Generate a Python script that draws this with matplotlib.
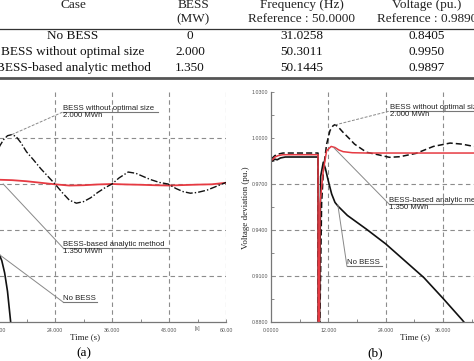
import numpy as np
import matplotlib
matplotlib.use("Agg")
import matplotlib.pyplot as plt
from matplotlib.lines import Line2D

# ---- table data ----
col_heads = ["Case", "BESS", "Frequency (Hz)", "Voltage (pu.)"]
col_heads2 = ["", "(MW)", "Reference : 50.0000", "Reference : 0.9890"]
cases = ["No BESS", "BESS without optimal size", "BESS-based analytic method"]
bess_mw = ["0", "2.000", "1.350"]
freq_hz = ["31.0258", "50.3011", "50.1445"]
volt_pu = ["0.8405", "0.9950", "0.9897"]

# ---- (a) frequency ----
t_a_nobess = [12.0, 12.4, 12.8, 13.4, 14.0, 14.7, 15.0]
f_nobess = [49.56, 49.53, 49.50, 49.42, 49.30, 49.09, 49.00]
t_a_bess = [12.0, 12.4, 13.2, 14.0, 14.9, 15.8, 16.8, 18.0, 19.4, 21.0, 22.5, 24.0,
            25.5, 27.0, 28.5, 30.0, 31.5, 33.0, 34.5, 36.0, 37.5, 39.4, 41.0, 42.5,
            44.0, 46.0, 47.8, 49.5, 51.0, 52.5, 54.0, 56.0, 58.0, 60.0]
f_bess = [50.22, 50.25, 50.29, 50.315, 50.322, 50.31, 50.27, 50.21, 50.16, 50.10, 50.05, 50.00,
          49.945, 49.895, 49.875, 49.885, 49.91, 49.945, 49.975, 50.00, 50.04, 50.078, 50.07, 50.05,
          50.03, 50.01, 50.00, 49.97, 49.95, 49.94, 49.945, 49.96, 49.985, 50.01]
t_a_opt = [12, 15, 18, 21, 24, 27, 30, 33, 36, 39, 42, 45, 48, 51, 54, 57, 60]
f_opt = [50.028, 50.025, 50.018, 50.008, 49.998, 49.99, 49.992, 49.997, 50.0, 49.997,
         49.995, 49.992, 49.99, 49.993, 49.996, 49.998, 50.008]

# ---- (b) voltage ----
t_b_nobess = [0, 0.3, 0.8, 1.3, 2.0, 3.0, 9.85, 9.9, 10.1, 10.4, 10.95, 11.4, 12.0, 12.7,
              13.4, 14.05, 16, 20, 24, 28, 32, 36, 40, 42.5]
v_nobess = [0.9855, 0.9850, 0.9862, 0.9858, 0.9870, 0.9876, 0.9876, 0.86, 0.86, 0.975, 0.9842,
            0.980, 0.972, 0.9635, 0.958, 0.9555, 0.9495, 0.9405, 0.931, 0.920, 0.909, 0.8955,
            0.8815, 0.872]
t_b_bess = [0, 0.3, 0.8, 1.5, 2.5, 9.85, 9.9, 10.15, 10.6, 11.0, 11.65, 12.35, 13.0, 13.4, 14.0,
            15.0, 16.5, 17.5, 20, 22.4, 24.8, 27, 30.4, 34, 37.5, 40, 42.5]
v_bess = [0.9865, 0.9870, 0.9885, 0.9895, 0.9902, 0.9902, 0.86, 0.86, 0.957, 0.980, 0.996, 1.0048,
          1.0080, 1.0087, 1.0075, 1.0040, 0.9993, 0.9960, 0.9907, 0.9891, 0.9874, 0.9878, 0.9900,
          0.9945, 0.9967, 0.9960, 0.9945]
t_b_opt = [0, 0.3, 0.8, 1.5, 2.5, 9.85, 9.9, 10.1, 10.26, 10.95, 11.65, 12.6, 13.4, 14.2, 15.1,
           17, 20, 25, 30, 35, 42.5]
v_opt = [0.9860, 0.9858, 0.9875, 0.9885, 0.9891, 0.9891, 0.86, 0.86, 0.957, 0.9787, 0.9917,
         0.9945, 0.9938, 0.9922, 0.9911, 0.9904, 0.9902, 0.9902, 0.9902, 0.9902, 0.9902]

serif = ["Liberation Serif", "DejaVu Serif"]
narrow = ["Liberation Sans Narrow", "Liberation Sans", "DejaVu Sans"]
gridc = "#8c8c8c"
red = "#e63a42"

fig = plt.figure(figsize=(4.74, 3.61), dpi=100)
W, H = 474.0, 361.0

# ---- table ----
col_x = [73, 193, 302, 427]
for i in range(4):
    fig.text(col_x[i] / W, 1 - 5 / H, col_heads[i], ha="center", va="center",
             family=serif, fontsize=9.5, color="#222")
    if col_heads2[i]:
        fig.text(col_x[i] / W, 1 - 19 / H, col_heads2[i], ha="center", va="center",
                 family=serif, fontsize=9.5, color="#222")
row_y = [36, 52, 68]
for r in range(3):
    vals = [cases[r], bess_mw[r], freq_hz[r], volt_pu[r]]
    for i in range(4):
        x = 190 if i == 1 else col_x[i]
        fig.text(x / W, 1 - row_y[r] / H, vals[i], ha="center", va="center",
                 family=serif, fontsize=9.5, color="#111")
fig.add_artist(Line2D([0, 1], [1 - 29 / H, 1 - 29 / H], color="#333", lw=0.9))
fig.add_artist(Line2D([0, 1], [1 - 77.5 / H, 1 - 77.5 / H], color="#555", lw=2.0))


def style_axes(ax, xt, xtl):
    ax.set_xticks(xt)
    ax.set_xticklabels(xtl)
    ax.set_xticks([x + 6 for x in xt[:-1]], minor=True)
    ax.tick_params(axis="both", which="both", direction="in", length=2, width=0.6,
                   colors="#777", labelsize=3.8, labelcolor="#555", pad=4)
    for lab in ax.get_xticklabels() + ax.get_yticklabels():
        lab.set_family(narrow)
    for s in ["top", "right"]:
        ax.spines[s].set_visible(False)
    for s in ["left", "bottom"]:
        ax.spines[s].set_color("#777")
        ax.spines[s].set_linewidth(0.9)


def label(ax, txt, tx, ty, ul_end, px, py, dashed=False):
    lines = txt.split("\n")
    ax.text(tx, ty, lines[0], family=narrow, fontsize=5.6, ha="left", va="bottom",
            color="#222", clip_on=False)
    if len(lines) > 1:
        ax.text(tx, ty, lines[1], family=narrow, fontsize=5.6, ha="left", va="top",
                color="#222", clip_on=False)
    ax.plot([tx, ul_end], [ty, ty], color="#777", lw=0.8, clip_on=False)
    ax.plot([px, tx], [py, ty], color="#888", lw=0.7, clip_on=False,
            ls=(0, (3, 1.5)) if dashed else "-")


# ---- (a) ----
ax1 = fig.add_axes([-59 / W, 39 / H, 285 / W, 230 / H])
ax1.set_xlim(0, 60)
ax1.set_ylim(49.1, 50.6)
for v in [49.4, 49.7, 50.0, 50.3]:
    ax1.axhline(v, color=gridc, lw=0.8, ls=(0, (4, 3)))
for t in [24, 36, 48, 60]:
    ax1.axvline(t, color=gridc, lw=0.8, ls=(0, (4, 3)))
ax1.plot(t_a_opt, f_opt, color=red, lw=1.3)
ax1.plot(t_a_bess, f_bess, color="#111", lw=1.0, ls=(0, (5, 1.5, 1, 1.5)))
ax1.plot(t_a_nobess, f_nobess, color="#111", lw=1.2)
style_axes(ax1, [0, 12, 24, 36, 48, 60], ["0.0000", "12.000", "24.000", "36.000", "48.000", "60.00"])
ax1.set_yticks([])
ax1.spines["left"].set_visible(False)
ax1.text(54, 49.1 - 0.027, "[s]", family=narrow, fontsize=3.8, color="#555", ha="center",
         va="top")
ax1.set_xlabel("Time (s)", family=serif, fontsize=6.5, color="#222")
ax1.xaxis.set_label_coords((85 + 59) / 285, -11 / 230)
label(ax1, "BESS without optimal size\n2.000 MWh", 25.7, 50.47, 45.7, 14.9, 50.322, True)
label(ax1, "BESS-based analytic method\n1.350 MWh", 25.7, 49.583, 47.8, 13.1, 50.0)
label(ax1, "No BESS", 25.7, 49.23, 32.8, 12.4, 49.537)
fig.text(84 / W, 1 - 353 / H, "(a)", family=serif, fontsize=9.5, ha="center", va="center")

# ---- (b) ----
ax2 = fig.add_axes([271 / W, 39 / H, 286.5 / W, 230 / H])
ax2.set_xlim(0, 60)
ax2.set_ylim(0.88, 1.03)
for v in [0.91, 0.94, 0.97]:
    ax2.axhline(v, color=gridc, lw=0.8, ls=(0, (4, 3)))
for t in [12, 24, 36, 48]:
    ax2.axvline(t, color=gridc, lw=0.8, ls=(0, (4, 3)))
ax2.plot(t_b_nobess, v_nobess, color="#111", lw=1.2)
ax2.plot(t_b_bess, v_bess, color="#111", lw=1.1, ls=(0, (4, 2)))
ax2.plot(t_b_opt, v_opt, color=red, lw=1.1)
ax2.set_yticks([0.88, 0.91, 0.94, 0.97, 1.0, 1.03])
ax2.set_yticklabels(["0.8800", "0.9100", "0.9400", "0.9700", "1.0000", "1.0300"])
ax2.set_yticks([0.895, 0.925, 0.955, 0.985, 1.015], minor=True)
style_axes(ax2, [0, 12, 24, 36, 48, 60], ["0.0000", "12.000", "24.000", "36.000", "48.000", "60.00"])
ax2.tick_params(axis="y", pad=2)
ax2.set_xlabel("Time (s)", family=serif, fontsize=6.5, color="#222")
ax2.xaxis.set_label_coords((415 - 271) / 286.5, -11 / 230)
ax2.set_ylabel("Voltage deviation (pu.)", family=serif, fontsize=6.5, color="#222")
ax2.yaxis.set_label_coords(-21 / 286.5, (322 - 208) / 230)
label(ax2, "BESS without optimal size\n2.000 MWh", 24.9, 1.0176, 60, 13.4, 1.0085, True)
label(ax2, "BESS-based analytic method\n1.350 MWh", 24.7, 0.957, 50, 13.2, 0.9935)
label(ax2, "No BESS", 15.9, 0.9165, 23.2, 14.0, 0.9563)
fig.text(375 / W, 1 - 353 / H, "(b)", family=serif, fontsize=9.5, ha="center", va="center")

fig.savefig("out.png", dpi=100)
